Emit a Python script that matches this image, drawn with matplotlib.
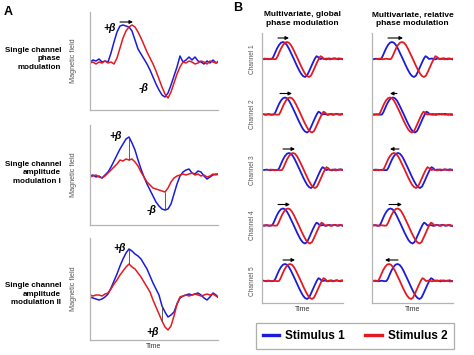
import numpy as np
import matplotlib
matplotlib.use("Agg")
import matplotlib.pyplot as plt
from matplotlib.lines import Line2D

plt.rcParams['font.family'] = ['Liberation Sans', 'DejaVu Sans']

BLUE = '#1c1cd8'
RED = '#e21b22'
SPINE = '#b4b4b4'

# ---------------- Panel A data (single channel) ----------------
t_a = list(range(0, 130, 3))  # time samples

a1_blue = [0, 2, 1, 3, 0, 1, 0, 9, 20, 30, 36, 37, 36, 35, 31, 22, 13, 8, 3, -2, -8, -15,
           -22, -28, -33, -35, -31, -23, -14, -5, 6, 0, 2, 5, 2, 5, 1, 0, -2, 1, -1, 2, -1, 1]
a1_red = [-1, 0, -2, 0, -1, 1, -1, 0, -2, 4, 14, 24, 31, 35, 37, 35, 30, 24, 17, 10, 4, -2,
          -9, -17, -25, -32, -36, -30, -21, -12, -5, 0, -1, 1, 0, -2, -1, 1, 0, -2, 1, 0, -1, 0]

a2_blue = [0, 1, -1, 0, -2, 1, 4, 9, 15, 21, 27, 32, 37, 39, 33, 26, 16, 7, -1, -8, -14, -20,
           -26, -30, -33, -34, -33, -28, -18, -8, 0, 4, 6, 7, 3, 2, 5, 4, 0, -3, -1, 1, 2, 1]
a2_red = [-1, 0, 1, -1, -2, 0, 3, 6, 9, 12, 16, 15, 17, 16, 17, 14, 10, 4, -1, -6, -9, -12,
          -13, -14, -15, -16, -12, -6, -2, 0, 1, 2, 1, 2, 3, 1, 2, 0, 1, -1, 0, 2, 1, 3]

a3_blue = [-1, -2, -3, -4, -3, -1, 2, 8, 15, 22, 30, 37, 43, 47, 45, 42, 40, 37, 32, 27, 20, 13,
           7, 1, -10, -16, -21, -19, -16, -8, -2, 0, 1, 2, 1, 2, 3, 1, -2, -4, -1, 3, 1, -2]
a3_red = [1, 0, 1, 1, 0, 2, 3, 7, 12, 16, 21, 25, 29, 32, 29, 27, 23, 19, 14, 9, 4, -4,
          -11, -18, -25, -31, -34, -30, -20, -8, -1, 0, 1, 0, 1, 2, 1, 0, 1, 2, 1, 2, 0, -2]

row_labels = ["Single channel\nphase\nmodulation",
              "Single channel\namplitude\nmodulation I",
              "Single channel\namplitude\nmodulation II"]

# ---------------- Panel B data (multivariate) ----------------
tmpl_dx = [-14, -11, -8, -5, -2, 0, 1.5, 3, 5, 7, 9, 11, 13, 15, 17, 19, 21, 23, 25, 27, 29,
           31, 33, 35, 37, 39, 41, 43, 44.5, 46, 48, 51, 54, 57, 60, 63, 66, 69, 72, 76, 80]
tmpl_y = [0, 0.4, -0.3, 0.3, -0.2, 0, 2.5, 6, 10.5, 14, 16.3, 17, 16.2, 13.8, 10.2, 6, 1.8,
          -2.6, -7, -11, -14.6, -17, -18, -16.6, -12.5, -8, -3.5, 0.6, 2.8, 2, 0, 0.5, -0.4,
          0.6, 0, 0.7, -0.3, 0.4, -0.5, 0.3, 0]

channels = ["Channel 1", "Channel 2", "Channel 3", "Channel 4", "Channel 5"]
# response onsets (time units) per channel
glob_blue_onset = [10, 12, 16, 10, 12]
glob_red_onset = [14, 17, 20, 15, 17]
rel_blue_onset = [9, 10, 15, 7.5, 14.5]
rel_red_onset = [19, 7, 11, 14.5, 6]
# arrows (start, end) indicating shift direction
glob_arrows = [(16, 27), (18, 30), (21, 33), (16, 28), (21, 33)]
rel_arrows = [(16, 31), (25, 18), (27, 18), (17, 30), (26, 13)]

col_titles = ["Multivariate, global\nphase modulation",
              "Multivariate, relative\nphase modulation"]
legend_labels = ["Stimulus 1", "Stimulus 2"]

# ---------------- figure ----------------
W, H = 474, 355
fig = plt.figure(figsize=(W / 100, H / 100), dpi=100)


def px_axes(x0, y0, x1, y1):
    return fig.add_axes([x0 / W, 1 - y1 / H, (x1 - x0) / W, (y1 - y0) / H])


def style(ax):
    for s in ['top', 'right']:
        ax.spines[s].set_visible(False)
    for s in ['left', 'bottom']:
        ax.spines[s].set_color(SPINE)
        ax.spines[s].set_linewidth(0.9)
    ax.set_xticks([])
    ax.set_yticks([])
    ax.patch.set_alpha(0)


def ftext(x, y, s, **kw):
    fig.text(x / W, 1 - y / H, s, **kw)


# Panel A
a_boxes = [(90, 12, 218, 110), (90, 125, 218, 225), (90, 238, 218, 340)]
a_ylims = [(-48, 50), (-49, 51), (-44, 58)]
a_data = [(a1_blue, a1_red), (a2_blue, a2_red), (a3_blue, a3_red)]
row_y = [59, 173, 294]
axA = []
for i in range(3):
    ax = px_axes(*a_boxes[i])
    style(ax)
    b, r = a_data[i]
    ax.plot(t_a, b, color=BLUE, lw=1.1)
    ax.plot(t_a, r, color=RED, lw=1.1)
    ax.set_xlim(0, 128)
    ax.set_ylim(*a_ylims[i])
    ax.set_ylabel("Magnetic field", fontsize=5.2, color='#555555')
    ax.yaxis.set_label_coords(-0.10, 0.5)
    axA.append(ax)
    ftext(61, row_y[i], row_labels[i], ha='right', va='center', ma='right',
          fontsize=5.8, fontweight='bold', linespacing=1.35)

axA[2].set_xlabel("Time", fontsize=5, color='#333333', labelpad=2)

beta_kw = dict(fontsize=7.5, fontweight='bold', fontstyle='italic', ha='center', va='center')
arrow_kw = dict(arrowstyle='-|>', color='black', lw=0.8, mutation_scale=5, shrinkA=0, shrinkB=0)

# A1 annotations
axA[0].annotate('', xy=(43, 40), xytext=(30, 40), arrowprops=arrow_kw)
axA[0].text(20, 34, '+β', **beta_kw)
axA[0].text(54, -26, '-β', **beta_kw)

# A2 annotations
for idx in (13, 25):
    axA[1].vlines(t_a[idx], a2_red[idx], a2_blue[idx], color='#444444', lw=0.6)
axA[1].text(26, 40, '+β', **beta_kw)
axA[1].text(62, -34, '-β', **beta_kw)

# A3 annotations
for idx in (13, 24):
    axA[2].vlines(t_a[idx], a3_red[idx], a3_blue[idx], color='#444444', lw=0.6)
axA[2].text(30, 48, '+β', **beta_kw)
axA[2].text(63, -36, '+β', **beta_kw)

ftext(8, 12, "A", fontsize=9, fontweight='bold', ha='center', va='center')
ftext(238, 8, "B", fontsize=9, fontweight='bold', ha='center', va='center')

# Panel B
spacing = 55.5
offsets = [-k * spacing for k in range(5)]
b_boxes = [(262, 33, 343, 303), (372, 33, 453, 303)]
b_sets = [(glob_blue_onset, glob_red_onset, glob_arrows),
          (rel_blue_onset, rel_red_onset, rel_arrows)]
tdx = np.array(tmpl_dx)
ty = np.array(tmpl_y)
for j in range(2):
    ax = px_axes(*b_boxes[j])
    style(ax)
    bon, ron, arr = b_sets[j]
    for k in range(5):
        ax.plot(tdx + bon[k], ty + offsets[k], color=BLUE, lw=1.3)
        ax.plot(tdx + ron[k], ty + offsets[k], color=RED, lw=1.3)
        s, e = arr[k]
        ax.annotate('', xy=(e, offsets[k] + 21), xytext=(s, offsets[k] + 21),
                    arrowprops=arrow_kw)
    ax.set_xlim(0, 81)
    ax.set_ylim(offsets[-1] - 22, 26)
    ax.set_xlabel("Time", fontsize=5, color='#333333', labelpad=2)
    if j == 0:
        ax.set_yticks(offsets, channels, rotation=90, va='center', fontsize=4.7,
                      color='#555555')
        ax.tick_params(axis='y', length=0, pad=4)
    ax.set_title(col_titles[j], fontsize=6, fontweight='bold', linespacing=1.25, pad=6)

handles = [Line2D([], [], color=BLUE, lw=2.4), Line2D([], [], color=RED, lw=2.4)]
leg = fig.legend(handles, legend_labels, loc='center', bbox_to_anchor=(355 / W, 1 - 336 / H),
                 ncol=2, frameon=True, fancybox=False, edgecolor='#9a9a9a',
                 prop=dict(weight='bold', size=8.5), handlelength=1.4, handletextpad=0.5,
                 columnspacing=1.7, borderpad=0.62, borderaxespad=0)
leg.get_frame().set_linewidth(0.9)

fig.savefig("out.png", dpi=100)
